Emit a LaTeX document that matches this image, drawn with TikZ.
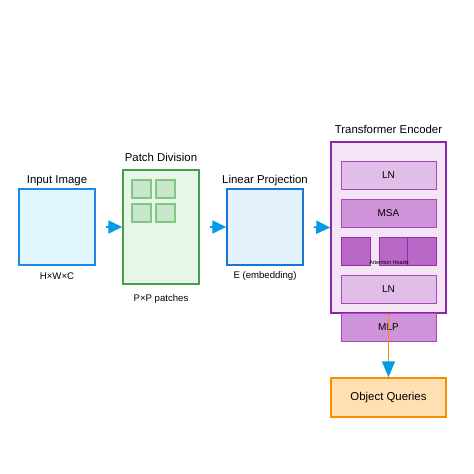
\documentclass[tikz,border=0pt]{standalone}
\usepackage{fontspec}
\setmainfont{Liberation Sans}
\usetikzlibrary{arrows.meta}

\definecolor{inblue}{HTML}{1E88E5}
\definecolor{infill}{HTML}{E1F5FE}
\definecolor{projblue}{HTML}{1976D2}
\definecolor{projfill}{HTML}{E3F2FD}
\definecolor{patchgreen}{HTML}{43A047}
\definecolor{patchfill}{HTML}{E8F5E9}
\definecolor{cellgreen}{HTML}{81C784}
\definecolor{cellfill}{HTML}{C8E6C9}
\definecolor{encpurple}{HTML}{8E24AA}
\definecolor{encfill}{HTML}{F3E5F5}
\definecolor{layerpurple}{HTML}{AB47BC}
\definecolor{lnfill}{HTML}{E1BEE7}
\definecolor{msafill}{HTML}{CE93D8}
\definecolor{headfill}{HTML}{BA68C8}
\definecolor{headpurple}{HTML}{9C27B0}
\definecolor{qorange}{HTML}{FB8C00}
\definecolor{qfill}{HTML}{FFE0B2}
\definecolor{arrowblue}{HTML}{039BE5}

\tikzset{
  box/.style={draw, line width=1.5pt, inner sep=0pt, minimum width=76pt},
  layer/.style={draw=layerpurple, line width=1pt, inner sep=0pt, minimum width=95pt, minimum height=28pt, font=\fontsize{10}{12}\selectfont},
  head/.style={draw=headpurple, line width=0.8pt, fill=headfill, inner sep=0pt, minimum height=28pt},
  cell/.style={draw=cellgreen, line width=1.2pt, fill=cellfill, inner sep=0pt, minimum width=19pt, minimum height=18pt},
  title/.style={inner sep=0pt, font=\fontsize{11.4}{14}\selectfont},
  note/.style={inner sep=0pt, font=\fontsize{9.6}{11}\selectfont},
  flow/.style={arrowblue, line width=1.8pt, -{Triangle[length=14pt,width=13pt]}},
}

\begin{document}
\begin{tikzpicture}[x=1pt,y=1pt,yscale=-1,xscale=1]
\useasboundingbox (0,0) rectangle (474,474);

%Shape: Input Image
\node (inimg) at (57,227) [box, draw=inblue, fill=infill, minimum height=76pt] {};
%Shape: Patch Division
\node (patchdiv) at (161,227) [box, draw=patchgreen, fill=patchfill, minimum height=114pt] {};
\node (cellA) at (141.5,189) [cell] {};
\node (cellB) at (165.5,189) [cell] {};
\node (cellC) at (141.5,213) [cell] {};
\node (cellD) at (165.5,213) [cell] {};
%Shape: Linear Projection
\node (linproj) at (265,227) [box, draw=projblue, fill=projfill, minimum height=76pt] {};
%Shape: Transformer Encoder
\node (encoder) at (388.5,227.5) [box, draw=encpurple, fill=encfill, minimum width=115pt, minimum height=171pt] {};
\node (lnA) at (388.5,175) [layer, fill=lnfill] {LN};
\node (msa) at (388.5,213) [layer, fill=msafill] {MSA};
\node (headA) at (355.5,251) [head, minimum width=29pt] {};
\node (headB) at (393.5,251) [head, minimum width=28pt] {};
\node (headC) at (422,251) [head, minimum width=29pt] {};
\node (lnB) at (388.5,289) [layer, fill=lnfill] {LN};
\node (mlp) at (388.5,327) [layer, fill=msafill] {MLP};
%Shape: Object Queries
\node (queries) at (388.5,397.5) [box, draw=qorange, fill=qfill, minimum width=115pt, minimum height=39pt, font=\fontsize{11.4}{14}\selectfont] {Object Queries};

%Straight Lines
\draw [flow, shorten <=10pt] (inimg.east) -- (patchdiv.west);
\draw [flow, shorten <=10pt] (patchdiv.east) -- (linproj.west);
\draw [flow, shorten <=10pt] (linproj.east) -- (encoder.west);
\draw [qorange, line width=1.5pt, -{Triangle[length=16pt,width=13pt,color=arrowblue,fill=arrowblue]}] (encoder.south) -- (queries.north);

% Text Node
\node (intitle) at (57,181) [title] {Input Image};
% Text Node
\node (patchtitle) at (161,157) [title] {Patch Division};
% Text Node
\node (projtitle) at (265,181) [title] {Linear Projection};
% Text Node
\node (enctitle) at (388.5,129) [title] {Transformer Encoder};
% Text Node
\node (insize) at (57,276) [note] {H×W×C};
% Text Node
\node (patchsize) at (161,299) [note] {P×P patches};
% Text Node
\node (embdim) at (265,276) [note] {E (embedding)};
% Text Node
\node (headtext) at (389,263) [inner sep=0pt, font=\fontsize{5.5}{6}\selectfont] {Attention Heads};

\end{tikzpicture}
\end{document}
